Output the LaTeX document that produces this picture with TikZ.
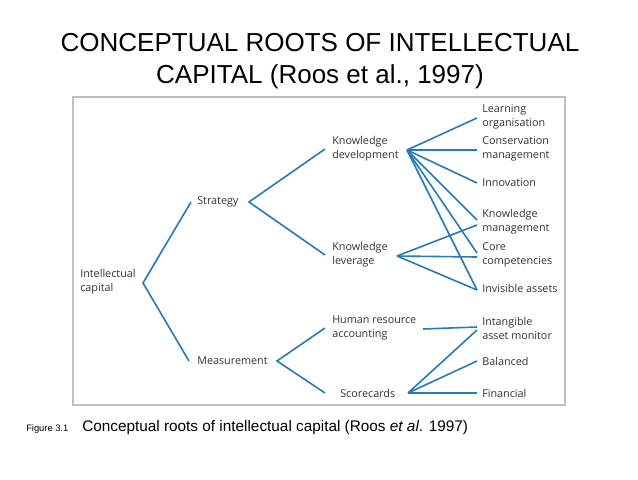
\documentclass[tikz,border=0pt]{standalone}
\usepackage{fontspec}
\setmainfont{Liberation Sans}
\newfontfamily\figfont{Open Sans}
\definecolor{brc}{RGB}{40,122,182}
\begin{document}
\begin{tikzpicture}[x=0.75pt,y=-0.75pt,
  lab/.style={font=\figfont\fontsize{8.1}{10.5}\selectfont,color=black!80,anchor=west,align=left,inner sep=0pt},
  br/.style={draw=brc,line width=1.2pt},
  jn/.style={inner sep=0pt,minimum size=0pt}]
\useasboundingbox (0,0) rectangle (638,479);
\fill[white] (0,0) rectangle (638,479);
\node[font=\fontsize{19.5}{23.5}\selectfont,align=center] (title) at (320,61) {CONCEPTUAL ROOTS OF INTELLECTUAL\\CAPITAL (Roos et al., 1997)};
\draw[black!25,line width=0.8pt] (73,97) rectangle (565,405);
\node[anchor=west,font=\fontsize{7}{8}\selectfont,inner sep=0pt] (fig) at (26,429) {Figure 3.1};
\node[anchor=west,font=\fontsize{11.5}{13}\selectfont,inner sep=0pt] (cap) at (82,428) {Conceptual roots of intellectual capital (Roos \textit{et al}. 1997)};
% labels
\node[lab] (ic) at (80,282) {Intellectual\\capital};
\node[lab] (st) at (197,202) {Strategy};
\node[lab] (me) at (197,361) {Measurement};
\node[lab] (kd) at (332,149) {Knowledge\\development};
\node[lab] (kl) at (332,255) {Knowledge\\leverage};
\node[lab] (hr) at (332,328) {Human resource\\accounting};
\node[lab] (sc) at (340,393) {Scorecards};
\node[lab] (lo) at (482,117) {Learning\\organisation};
\node[lab] (cm) at (482,149) {Conservation\\management};
\node[lab] (in) at (482,183) {Innovation};
\node[lab] (km) at (482,222) {Knowledge\\management};
\node[lab] (cc) at (482,255) {Core\\competencies};
\node[lab] (ia) at (482,288) {Invisible assets};
\node[lab] (iam) at (482,328) {Intangible\\asset monitor};
\node[lab] (ba) at (482,361) {Balanced};
\node[lab] (fi) at (482,393) {Financial};
% junctions
\coordinate (jic) at (143,283);
\coordinate (jst) at (249,202);
\coordinate (jme) at (277,361);
\coordinate (jkd) at (407,150);
\coordinate (jkl) at (397,256);
\coordinate (jhr) at (423,329);
\coordinate (jsc) at (408,393);
% connectors
\draw[br] (st.west)++(-6,0) coordinate (est) -- (jic) -- ([xshift=-6pt]me.west);
\draw[br] ([xshift=-5.25pt]kd.west) -- (jst) -- ([xshift=-5.25pt]kl.west);
\draw[br] ([xshift=-5.25pt]hr.west) -- (jme) -- ([xshift=-11.25pt]sc.west);
\foreach \y in {118,150,183,220,253,290} \draw[br] (jkd) -- (477,\y);
\foreach \y in {225,257,290} \draw[br] (jkl) -- (477,\y);
\draw[br] (jhr) -- (477,327);
\foreach \y in {330,361,393} \draw[br] (jsc) -- (477,\y);
\end{tikzpicture}
\end{document}
